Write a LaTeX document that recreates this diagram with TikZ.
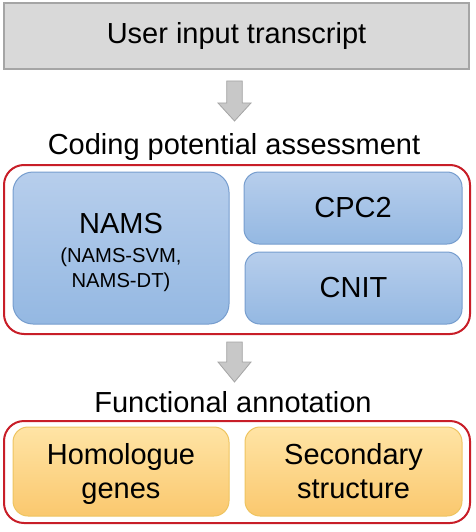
\documentclass[tikz,border=0pt]{standalone}
\usepackage{fontspec}
\setmainfont{Liberation Sans}
\usetikzlibrary{calc}
\definecolor{grayfill}{RGB}{217,217,217}
\definecolor{grayline}{RGB}{165,165,165}
\definecolor{arrfill}{RGB}{200,200,200}
\definecolor{arrline}{RGB}{165,165,165}
\definecolor{redline}{RGB}{200,30,40}
\definecolor{bluetop}{RGB}{183,206,236}
\definecolor{bluebot}{RGB}{148,184,226}
\definecolor{blueline}{RGB}{118,157,206}
\definecolor{orgtop}{RGB}{255,228,165}
\definecolor{orgbot}{RGB}{250,200,110}
\definecolor{orgline}{RGB}{238,196,96}
\tikzset{
  bigfont/.style={font=\fontsize{29}{34}\selectfont},
  smallfont/.style={font=\fontsize{20.2}{25}\selectfont},
  graybox/.style={draw=grayline, line width=1.2pt, fill=grayfill, inner sep=0pt, bigfont},
  redframe/.style={draw=redline, line width=2pt, rounded corners=20pt, inner sep=0pt},
  bluebox/.style={draw=blueline, line width=1pt, top color=bluetop, bottom color=bluebot, inner sep=0pt, align=center, bigfont},
  orgbox/.style={draw=orgline, line width=1pt, top color=orgtop, bottom color=orgbot, inner sep=0pt, align=center, bigfont, text height=57pt, text depth=4pt},
  blockarrow/.style={draw=arrline, line width=0.8pt, fill=arrfill},
  heading/.style={inner sep=0pt, bigfont, anchor=base}
}
\begin{document}
\begin{tikzpicture}[x=1pt,y=-1pt]
\useasboundingbox (0,0) rectangle (475,532);
% top box
\node[graybox, minimum width=465pt, minimum height=66pt] (input) at (236.5,36) {User input transcript};
% arrow 1
\coordinate (a1) at (234.5,81);
\draw[blockarrow] ($(a1)+(-7.8,0)$) -- ($(a1)+(7.8,0)$) -- ($(a1)+(7.8,22)$) -- ($(a1)+(16.5,22)$) -- ($(a1)+(0,40)$) -- ($(a1)+(-16.5,22)$) -- ($(a1)+(-7.8,22)$) -- cycle;
% heading 1
\node[heading] (cpa) at (234,154) {Coding potential assessment};
% red frame 1
\node[redframe, minimum width=466pt, minimum height=169pt] (frame1) at (237,249.5) {};
\node[bluebox, rounded corners=20pt, minimum width=216pt, minimum height=152pt] (nams) at (121,248) {};
\node[heading] (namsA) at (121,233) {NAMS};
\node[heading, smallfont] (namsB) at (121,262) {(NAMS-SVM,};
\node[heading, smallfont] (namsC) at (121,287) {NAMS-DT)};
\node[bluebox, rounded corners=15pt, minimum width=218pt, minimum height=72pt] (cpc) at (353,208) {CPC2};
\node[bluebox, rounded corners=15pt, minimum width=217pt, minimum height=72pt] (cnit) at (353.5,288) {CNIT};
% arrow 2
\coordinate (a2) at (234.5,342);
\draw[blockarrow] ($(a2)+(-7.8,0)$) -- ($(a2)+(7.8,0)$) -- ($(a2)+(7.8,20)$) -- ($(a2)+(16.5,20)$) -- ($(a2)+(0,40)$) -- ($(a2)+(-16.5,20)$) -- ($(a2)+(-7.8,20)$) -- cycle;
% heading 2
\node[heading] (fa) at (233,412) {Functional annotation};
% red frame 2
\node[redframe, minimum width=466pt, minimum height=102pt] (frame2) at (237,472) {};
\node[orgbox, rounded corners=15pt, minimum width=216pt, minimum height=89pt] (homo) at (121,471.5) {Homologue\\genes};
\node[orgbox, rounded corners=15pt, minimum width=217pt, minimum height=89pt] (sec) at (353.5,471.5) {Secondary\\structure};
\end{tikzpicture}
\end{document}
